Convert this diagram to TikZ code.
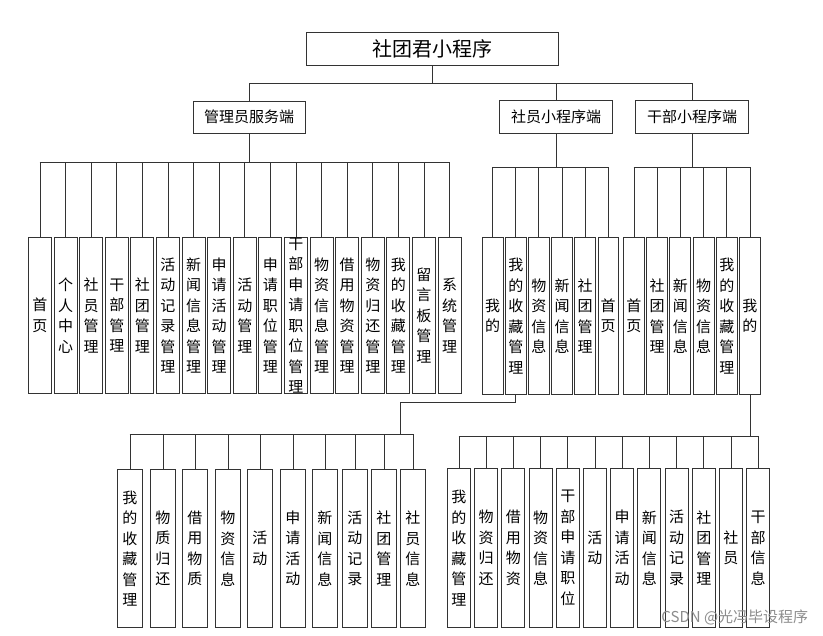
\documentclass[tikz,border=0pt]{standalone}
\usepackage{fontspec}
\setmainfont{Noto Sans CJK SC}
\begin{document}
\begin{tikzpicture}[x=1pt,y=-1pt,line width=0.9pt,
  box/.style={draw=black!80,inner sep=0pt,font=\fontsize{15}{20}\selectfont},
  leaf/.style={draw=black!80,inner sep=0pt,align=center,font=\fontsize{15}{20.5}\selectfont,anchor=north west},
  wire/.style={draw=black!80,line width=0.9pt}]
\useasboundingbox (0,0) rectangle (823,636);
% top
\node[box,minimum width=252pt,minimum height=33pt,font=\fontsize{20}{24}\selectfont] (root) at (432,48.5) {社团君小程序};
\node[box,minimum width=112pt,minimum height=32pt] (adm) at (249,117) {管理员服务端};
\node[box,minimum width=113pt,minimum height=33pt] (mem) at (556,116.5) {社员小程序端};
\node[box,minimum width=113pt,minimum height=33pt] (cad) at (692,116.5) {干部小程序端};
\draw[wire] (root.south) -- (432,83);
\draw[wire] (adm.north) -- (249,83) -- (692,83) -- (cad.north);
\draw[wire] (mem.north) -- (556,83);
% admin leaves
\draw[wire] (adm.south) -- (249,162);
\draw[wire] (39.5,162) -- (449.5,162);
\foreach \t [count=\i from 0] in {首\\页,个\\人\\中\\心,社\\员\\管\\理,干\\部\\管\\理,社\\团\\管\\理,活\\动\\记\\录\\管\\理,新\\闻\\信\\息\\管\\理,申\\请\\活\\动\\管\\理,活\\动\\管\\理,申\\请\\职\\位\\管\\理,干\\部\\申\\请\\职\\位\\管\\理,物\\资\\信\\息\\管\\理,借\\用\\物\\资\\管\\理,物\\资\\归\\还\\管\\理,我\\的\\收\\藏\\管\\理,留\\言\\板\\管\\理,系\\统\\管\\理}{
  \pgfmathsetmacro\xx{28+\i*25.6}
  \node[leaf,minimum width=23pt,minimum height=156pt] (a\i) at (\xx,237) {\t};
  \draw[wire] (a\i.north) -- (a\i.north |- 0,162);
}
% member leaves
\draw[wire] (mem.south) -- (556,167);
\draw[wire] (492,167) -- (607.5,167);
\foreach \t [count=\i from 0] in {我\\的,我\\的\\收\\藏\\管\\理,物\\资\\信\\息,新\\闻\\信\\息,社\\团\\管\\理,首\\页}{
  \pgfmathsetmacro\xx{482+\i*23.1}
  \node[leaf,minimum width=20.5pt,minimum height=157pt] (m\i) at (\xx,237) {\t};
  \draw[wire] (m\i.north) -- (m\i.north |- 0,167);
}
% cadre leaves
\draw[wire] (cad.south) -- (692,167);
\draw[wire] (633.5,167) -- (750,167);
\foreach \t [count=\i from 0] in {首\\页,社\\团\\管\\理,新\\闻\\信\\息,物\\资\\信\\息,我\\的\\收\\藏\\管\\理,我\\的}{
  \pgfmathsetmacro\xx{623+\i*23.2}
  \node[leaf,minimum width=21pt,minimum height=157pt] (c\i) at (\xx,237) {\t};
  \draw[wire] (c\i.north) -- (c\i.north |- 0,167);
}
% bottom left (from member 我的收藏管理)
\coordinate (bl) at (400,402);
\draw[wire] (m1.south) -- (m1.south |- bl) -- (bl) -- (400,434);
\draw[wire] (129.5,434) -- (412.5,434);
\foreach \t/\xx [count=\i from 0] in {我\\的\\收\\藏\\管\\理/117,物\\质\\归\\还/150,借\\用\\物\\质/182,物\\资\\信\\息/215,活\\动/247,申\\请\\活\\动/280,新\\闻\\信\\息/312,活\\动\\记\\录/342,社\\团\\管\\理/371,社\\员\\信\\息/400}{
  \node[leaf,minimum width=25pt,minimum height=158pt] (l\i) at (\xx,469) {\t};
  \draw[wire] (l\i.north) -- (l\i.north |- 0,434);
}
% bottom right (from cadre 我的)
\draw[wire] (c5.south) -- (c5.south |- 0,436);
\draw[wire] (458.5,436) -- (757.5,436);
\foreach \t [count=\i from 0] in {我\\的\\收\\藏\\管\\理,物\\资\\归\\还,借\\用\\物\\资,物\\资\\信\\息,干\\部\\申\\请\\职\\位,活\\动,申\\请\\活\\动,新\\闻\\信\\息,活\\动\\记\\录,社\\团\\管\\理,社\\员,干\\部\\信\\息}{
  \pgfmathsetmacro\xx{447+\i*27.2}
  \node[leaf,minimum width=23pt,minimum height=159pt] (r\i) at (\xx,468) {\t};
  \draw[wire] (r\i.north) -- (r\i.north |- 0,436);
}
\node[text=black!45,font=\fontsize{15}{18}\selectfont,anchor=east] (wm) at (812,617) {CSDN @光冯毕设程序};
\end{tikzpicture}
\end{document}
